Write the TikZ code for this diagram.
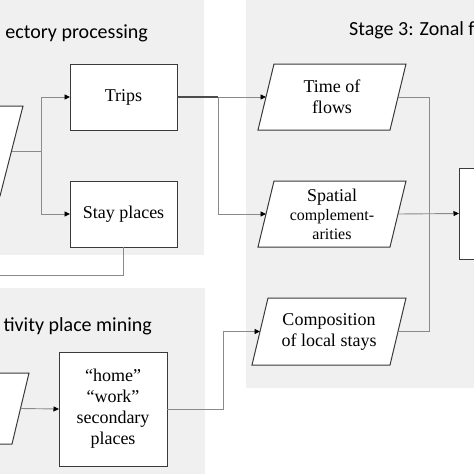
\documentclass[tikz,border=0pt]{standalone}
\usepackage{fontspec}
\setmainfont{Liberation Serif}
\newfontfamily\titlefont{Carlito}
\usetikzlibrary{arrows.meta}
\pgfdeclarelayer{panels}
\pgfdeclarelayer{background}
\pgfsetlayers{panels,background,main}
\definecolor{panelgray}{HTML}{F0F0F0}
\definecolor{boxgray}{HTML}{3A3A3A}
\definecolor{linegray}{HTML}{8A8A8A}
\tikzset{
  panel/.style={fill=panelgray, draw=none},
  rectbox/.style={draw=boxgray, line width=1pt, fill=white, inner sep=0pt, outer sep=0pt,
    align=center, font=\fontsize{18}{21}\selectfont},
  parabody/.style={draw=none, inner sep=0pt, outer sep=0pt, align=center,
    font=\fontsize{18}{21}\selectfont},
  parabox/.style={draw=boxgray, line width=1pt, fill=white, line join=miter},
  conn/.style={draw=linegray, line width=0.9pt},
  darkconn/.style={draw=black!70, line width=1.3pt},
  arr/.style={conn, -{Triangle[length=5.5pt,width=5pt,color=black]}},
  stagetitle/.style={inner sep=0pt, font=\titlefont\fontsize{20}{24}\selectfont, text=black}
}
\newcommand\drawpara[2]{%
  \begin{pgfonlayer}{background}
  \draw[parabox] ([xshift=#2]#1.north west) -- ([xshift=#2]#1.north east)
     -- ([xshift=-#2]#1.south east) -- ([xshift=-#2]#1.south west) -- cycle;
  \end{pgfonlayer}}
\begin{document}
\begin{tikzpicture}[x=1pt, y=-1pt]
\useasboundingbox (0,0) rectangle (474,474);
\clip (0,0) rectangle (474,474);
\begin{pgfonlayer}{panels}
  \fill[white] (0,0) rectangle (474,474);
  \path[panel] (0,0) rectangle (204,255);
  \path[panel] (0,288) rectangle (205,474);
  \path[panel] (246,0) rectangle (474,388);
\end{pgfonlayer}

% stage titles
\node[stagetitle, anchor=base east] (t1) at (148,38) {ectory processing};
\node[stagetitle, anchor=base west] (t3) at (349,35) {Stage 3: Zonal f};
\node[stagetitle, anchor=base east] (t2) at (152,331) {tivity place mining};

% stage 1
\node[parabody, minimum width=103pt, minimum height=90pt] (p1) at (-40,151) {};
\drawpara{p1}{11.5pt}
\node[rectbox, minimum width=107pt, minimum height=66pt] (trips) at (123.5,97) {Trips};
\node[rectbox, minimum width=107pt, minimum height=66pt] (stay) at (123.5,214) {Stay places};

% stage 2
\node[parabody, minimum width=121pt, minimum height=71pt] (p2) at (-40,408.5) {};
\drawpara{p2}{8.5pt}
\node[rectbox, minimum width=108pt, minimum height=114pt] (home) at (113,409) {“home”\\“work”\\secondary\\places};

% stage 3
\node[parabody, minimum width=132pt, minimum height=66pt] (tof) at (332,97) {Time of\\flows};
\drawpara{tof}{8pt}
\node[parabody, minimum width=132pt, minimum height=66pt, font=\fontsize{16}{19}\selectfont] (spa) at (332,214)
  {{\fontsize{18}{20}\selectfont Spatial}\\complement-\\arities};
\drawpara{spa}{8pt}
\node[parabody, minimum width=138pt, minimum height=67pt] (comp) at (329,331.5) {Composition\\of local stays};
\drawpara{comp}{8pt}
\node[rectbox, minimum width=75pt, minimum height=91pt] (res) at (496.5,213.5) {};

% connectors
\coordinate (j1) at (41,151);
\draw[conn] (p1.east) -- (j1);
\draw[arr] (j1) |- (trips.west);
\draw[arr] (j1) |- (stay.west);

\coordinate (j2) at (218,97);
\draw[darkconn] (trips.east) -- (j2);
\draw[arr] (j2) -- (tof.west);
\draw[arr] (j2) |- (spa.west);

\coordinate (stayout) at (-5,275);
\draw[conn] (stay.south) |- (stayout);

\coordinate (r1) at (429,97);
\coordinate (r2) at (429,331.5);
\draw[conn] (tof.east) -- (r1) -- (r2) -- (comp.east);
\draw[arr] (spa.east) -- (res.west);

\draw[arr] (p2.east) -- (home.west);
\coordinate (j4) at (223,409);
\draw[arr] (home.east) -- (j4) |- (comp.west);
\end{tikzpicture}
\end{document}
